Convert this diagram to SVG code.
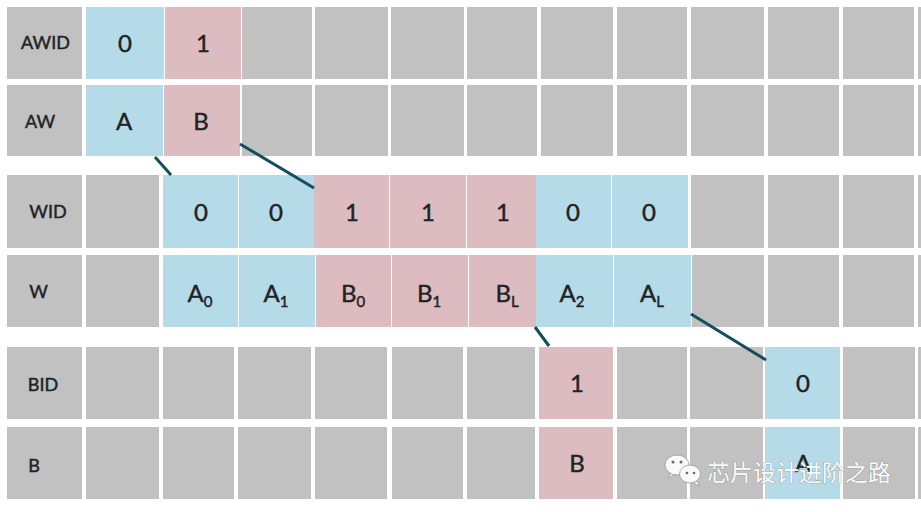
<svg xmlns="http://www.w3.org/2000/svg" width="921" height="512" viewBox="0 0 921 512">
<style>
.g{fill:#c1c1c1}
.b{fill:#b4dbe7}
.p{fill:#dcbcc1}
text{font-family:Lato,"Noto Sans","Liberation Sans",sans-serif;fill:#1f2326;stroke:#1f2326;stroke-width:0.45;text-anchor:middle}
.lbl{font-size:18px}
.val{font-size:24px}
.sub{font-size:15px}
.conn{stroke:#124e5b;stroke-width:3;fill:none}
text.wm{font-family:"Noto Sans CJK SC","Noto Sans CJK JP",sans-serif;font-size:23px;fill:#fbfbfb;stroke:#8c8c8c;stroke-width:0.7;paint-order:stroke;text-anchor:start}
</style>
<rect width="921" height="512" fill="#ffffff"/>

<!-- Row AWID -->
<g id="row-AWID">
  <g id="AWID-label"><rect class="g" x="7" y="7" width="75" height="72"/><text class="lbl" x="45.5" y="49">AWID</text></g>
  <g id="AWID-0"><rect class="b" x="86" y="7" width="78" height="72"/><text class="val" x="125" y="52">0</text></g>
  <g id="AWID-1"><rect class="p" x="165" y="7" width="76" height="72"/><text class="val" x="203" y="52">1</text></g>
  <g id="AWID-empty">
    <rect class="g" x="242" y="7" width="70" height="72"/>
    <rect class="g" x="315" y="7" width="73" height="72"/>
    <rect class="g" x="391" y="7" width="73" height="72"/>
    <rect class="g" x="467" y="7" width="70" height="72"/>
    <rect class="g" x="541" y="7" width="72" height="72"/>
    <rect class="g" x="617" y="7" width="70" height="72"/>
    <rect class="g" x="691" y="7" width="73" height="72"/>
    <rect class="g" x="768" y="7" width="71" height="72"/>
    <rect class="g" x="843" y="7" width="71" height="72"/>
    <rect class="g" x="918" y="7" width="10" height="72"/>
  </g>
</g>

<!-- Row AW -->
<g id="row-AW">
  <g id="AW-label"><rect class="g" x="7" y="85" width="75" height="71"/><text class="lbl" x="40" y="128">AW</text></g>
  <g id="AW-A"><rect class="b" x="86" y="85" width="77" height="71"/><text class="val" x="124" y="130">A</text></g>
  <g id="AW-B"><rect class="p" x="164" y="85" width="76" height="71"/><text class="val" x="201" y="130">B</text></g>
  <g id="AW-empty">
    <rect class="g" x="242" y="85" width="70" height="71"/>
    <rect class="g" x="315" y="85" width="73" height="71"/>
    <rect class="g" x="391" y="85" width="73" height="71"/>
    <rect class="g" x="467" y="85" width="70" height="71"/>
    <rect class="g" x="541" y="85" width="72" height="71"/>
    <rect class="g" x="617" y="85" width="70" height="71"/>
    <rect class="g" x="691" y="85" width="73" height="71"/>
    <rect class="g" x="768" y="85" width="71" height="71"/>
    <rect class="g" x="843" y="85" width="71" height="71"/>
    <rect class="g" x="918" y="85" width="10" height="71"/>
  </g>
</g>

<!-- Row WID -->
<g id="row-WID">
  <g id="WID-label"><rect class="g" x="7" y="175" width="75" height="73"/><text class="lbl" x="48" y="218">WID</text></g>
  <g id="WID-empty-1"><rect class="g" x="86" y="175" width="73" height="73"/></g>
  <g id="WID-c2"><rect class="b" x="163" y="175" width="75" height="73"/><text class="val" x="201" y="221">0</text></g>
  <g id="WID-c3"><rect class="b" x="239" y="175" width="75" height="73"/><text class="val" x="276" y="221">0</text></g>
  <g id="WID-c4"><rect class="p" x="314" y="175" width="75" height="73"/><text class="val" x="352" y="221">1</text></g>
  <g id="WID-c5"><rect class="p" x="390" y="175" width="76" height="73"/><text class="val" x="428" y="221">1</text></g>
  <g id="WID-c6"><rect class="p" x="467" y="175" width="69" height="73"/><text class="val" x="503" y="221">1</text></g>
  <g id="WID-c7"><rect class="b" x="536" y="175" width="75" height="73"/><text class="val" x="573" y="221">0</text></g>
  <g id="WID-c8"><rect class="b" x="612" y="175" width="76" height="73"/><text class="val" x="649" y="221">0</text></g>
  <g id="WID-empty">
    <rect class="g" x="691" y="175" width="73" height="73"/>
    <rect class="g" x="768" y="175" width="71" height="73"/>
    <rect class="g" x="843" y="175" width="71" height="73"/>
    <rect class="g" x="918" y="175" width="10" height="73"/>
  </g>
</g>

<!-- Row W -->
<g id="row-W">
  <g id="W-label"><rect class="g" x="7" y="255" width="75" height="72"/><text class="lbl" x="38.5" y="298">W</text></g>
  <g id="W-empty-1"><rect class="g" x="86" y="255" width="73" height="72"/></g>
  <g id="W-A0"><rect class="b" x="163" y="255" width="75" height="72"/><text class="val" x="200" y="302">A<tspan class="sub" dy="5">0</tspan></text></g>
  <g id="W-A1"><rect class="b" x="239" y="255" width="76" height="72"/><text class="val" x="276" y="302">A<tspan class="sub" dy="5">1</tspan></text></g>
  <g id="W-B0"><rect class="p" x="316" y="255" width="75" height="72"/><text class="val" x="353" y="302">B<tspan class="sub" dy="5">0</tspan></text></g>
  <g id="W-B1"><rect class="p" x="392" y="255" width="76" height="72"/><text class="val" x="429" y="302">B<tspan class="sub" dy="5">1</tspan></text></g>
  <g id="W-BL"><rect class="p" x="469" y="255" width="67" height="72"/><text class="val" x="507" y="302">B<tspan class="sub" dy="5">L</tspan></text></g>
  <g id="W-A2"><rect class="b" x="536" y="255" width="77" height="72"/><text class="val" x="572" y="302">A<tspan class="sub" dy="5">2</tspan></text></g>
  <g id="W-AL"><rect class="b" x="614" y="255" width="77" height="72"/><text class="val" x="652" y="302">A<tspan class="sub" dy="5">L</tspan></text></g>
  <g id="W-empty">
    <rect class="g" x="692" y="255" width="72" height="72"/>
    <rect class="g" x="768" y="255" width="71" height="72"/>
    <rect class="g" x="843" y="255" width="71" height="72"/>
    <rect class="g" x="918" y="255" width="10" height="72"/>
  </g>
</g>

<!-- Row BID -->
<g id="row-BID">
  <g id="BID-label"><rect class="g" x="7" y="347" width="75" height="72"/><text class="lbl" x="43" y="391">BID</text></g>
  <g id="BID-empty-a">
    <rect class="g" x="86" y="347" width="73" height="72"/>
    <rect class="g" x="163" y="347" width="71" height="72"/>
    <rect class="g" x="238" y="347" width="73" height="72"/>
    <rect class="g" x="315" y="347" width="72" height="72"/>
    <rect class="g" x="392" y="347" width="71" height="72"/>
    <rect class="g" x="467" y="347" width="68" height="72"/>
  </g>
  <g id="BID-1"><rect class="p" x="539" y="347" width="74" height="72"/><text class="val" x="577" y="392">1</text></g>
  <g id="BID-empty-b">
    <rect class="g" x="617" y="347" width="70" height="72"/>
    <rect class="g" x="690" y="347" width="73" height="72"/>
  </g>
  <g id="BID-0"><rect class="b" x="765" y="347" width="75" height="72"/><text class="val" x="803" y="392">0</text></g>
  <g id="BID-empty-c">
    <rect class="g" x="843" y="347" width="72" height="72"/>
    <rect class="g" x="918" y="347" width="10" height="72"/>
  </g>
</g>

<!-- Row B -->
<g id="row-B">
  <g id="B-label"><rect class="g" x="7" y="427" width="75" height="72"/><text class="lbl" x="34" y="472">B</text></g>
  <g id="B-empty-a">
    <rect class="g" x="86" y="427" width="73" height="72"/>
    <rect class="g" x="163" y="427" width="71" height="72"/>
    <rect class="g" x="238" y="427" width="73" height="72"/>
    <rect class="g" x="315" y="427" width="72" height="72"/>
    <rect class="g" x="392" y="427" width="71" height="72"/>
    <rect class="g" x="467" y="427" width="68" height="72"/>
  </g>
  <g id="B-B"><rect class="p" x="539" y="427" width="74" height="72"/><text class="val" x="577" y="472">B</text></g>
  <g id="B-empty-b">
    <rect class="g" x="617" y="427" width="70" height="72"/>
    <rect class="g" x="690" y="427" width="73" height="72"/>
  </g>
  <g id="B-A"><rect class="b" x="765" y="427" width="75" height="72"/><text class="val" x="803" y="472">A</text></g>
  <g id="B-empty-c">
    <rect class="g" x="843" y="427" width="72" height="72"/>
    <rect class="g" x="918" y="427" width="10" height="72"/>
  </g>
</g>

<!-- Connectors -->
<g id="connectors">
  <line class="conn" x1="155" y1="157" x2="171" y2="175"/>
  <line class="conn" x1="240" y1="144" x2="314" y2="188"/>
  <line class="conn" x1="535" y1="327" x2="549" y2="346"/>
  <line class="conn" x1="691" y1="314" x2="766" y2="360"/>
</g>

<!-- Watermark -->
<g id="watermark">
  <g fill="#fafafa" stroke="#9a9a9a" stroke-width="0.8">
    <path d="M672,472 l-4,6 l8,-4 z"/>
    <ellipse cx="677" cy="465" rx="12" ry="10"/>
    <path d="M697,481 l3,5 l-7,-3 z"/>
    <ellipse cx="690" cy="474" rx="10.5" ry="9"/>
  </g>
  <g fill="#6a6a6a">
    <circle cx="673" cy="462" r="1.5"/>
    <circle cx="681" cy="462" r="1.5"/>
    <circle cx="687" cy="473" r="1.3"/>
    <circle cx="694" cy="473" r="1.3"/>
  </g>
  <text class="wm" x="707" y="481">芯片设计进阶之路</text>
</g>
</svg>
